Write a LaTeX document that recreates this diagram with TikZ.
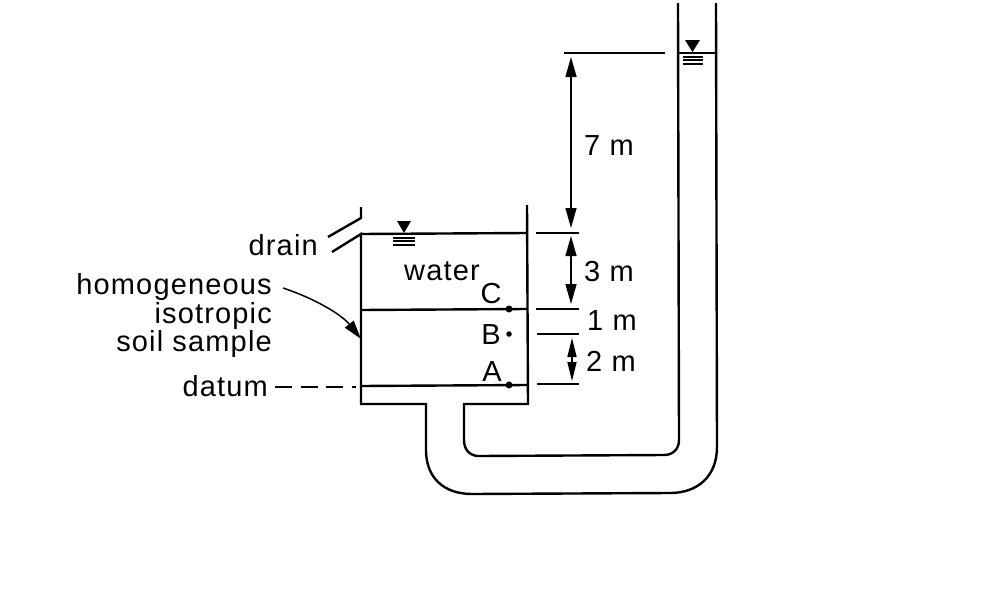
\documentclass[tikz,border=0pt]{standalone}
\usepackage{fontspec}
\setmainfont[LetterSpace=4]{Liberation Sans}
\usetikzlibrary{arrows.meta}
\tikzset{
 wall/.style={line width=2.4pt,line join=miter},
 leader/.style={line width=1.5pt},
 dim/.style={line width=1.5pt,{Stealth[length=20pt,width=11pt,inset=0pt]}-{Stealth[length=20pt,width=11pt,inset=0pt]}},
 lab/.style={inner sep=0pt,font=\fontsize{29}{29}\selectfont},
 pnt/.style={circle,fill=black,inner sep=0pt,minimum size=7pt},
 tri/.style={fill=black}
}
\begin{document}
\begin{tikzpicture}[x=1pt,y=-1pt]
 \useasboundingbox(0,0)rectangle(1002,597);
 % cell
 \draw[wall](361,207)--(361,218)--(328,237);
 \draw[wall](332,252)--(361,234)--(361,404)--(426,404)--(426,450)
  .. controls (426,478) and (444,494) .. (472,494)--(670,493)
  .. controls (698,493) and (717,476) .. (717,447)--(716,3);
 \draw[wall](527,205)--(528,404)--(464,404)--(464,440)
  .. controls (464,450) and (470,456) .. (479,456)--(664,455)
  .. controls (673,455) and (679,449) .. (679,440)--(678,3);
 \draw[wall](361,234)--(527,233);
 \draw[wall](361,310)--(527,309);
 \draw[wall](361,386)--(527,385);
 \draw[wall](678,53)--(716,53);
 % water marks
 \fill[tri](397,221)--(411,221)--(404,233)--cycle;
 \fill[tri](685,40)--(700,40)--(692.5,52)--cycle;
 \foreach \y in {238,241,245}{\draw[leader](393,\y)--(415,\y);}
 \foreach \y in {57,60,64}{\draw[leader](683,\y)--(703,\y);}
 % points
 \node[pnt](c) at (509,309){};
 \node[pnt,minimum size=5.5pt](b) at (509,334){};
 \node[pnt](a) at (509,385){};
 \node[lab,anchor=base](lc) at (491,303){C};
 \node[lab,anchor=base](lb) at (491,344){B};
 \node[lab,anchor=base](la) at (492,381){A};
 \node[lab,anchor=base](w) at (442,280){water};
 % left labels
 \node[lab,anchor=base east](dr) at (318,255){drain};
 \node[lab,anchor=base east](h1) at (272,294){homogeneous};
 \node[lab,anchor=base east](h2) at (272,323){isotropic};
 \node[lab,anchor=base east](h3) at (272,351){soil sample};
 \node[lab,anchor=base east](dt) at (268,396){datum};
 \coordinate(s) at (361,339);
 \coordinate(d) at (356,387);
 \draw[leader,-{Stealth[length=19pt,width=11pt,inset=0pt]}](283,288) .. controls (316,299) and (342,315) .. (s);
 \draw[leader,dash pattern=on 17pt off 8.5pt](275,387)--(d);
 % levels
 \coordinate(t) at (571,57);
 \coordinate(u) at (571,228);
 \coordinate(u2) at (571,236);
 \coordinate(v) at (571,304);
 \coordinate(m) at (572,338);
 \coordinate(n) at (572,381);
 \draw[leader](564,53)--(665,53);
 \draw[leader](536,233)--(579,233);
 \draw[leader](536,309)--(579,309);
 \draw[leader](537,334)--(579,334);
 \draw[leader](537,384)--(579,384);
 \draw[dim](t)--(u);
 \draw[dim](u2)--(v);
 \draw[dim,{Stealth[length=19pt,width=9pt,inset=0pt]}-{Stealth[length=19pt,width=9pt,inset=0pt]}](m)--(n);
 \node[lab,anchor=base west](m7) at (584,155){7 m};
 \node[lab,anchor=base west](m3) at (584,281){3 m};
 \node[lab,anchor=base west](m1) at (587,330){1 m};
 \node[lab,anchor=base west](m2) at (586,371){2 m};
\end{tikzpicture}
\end{document}
